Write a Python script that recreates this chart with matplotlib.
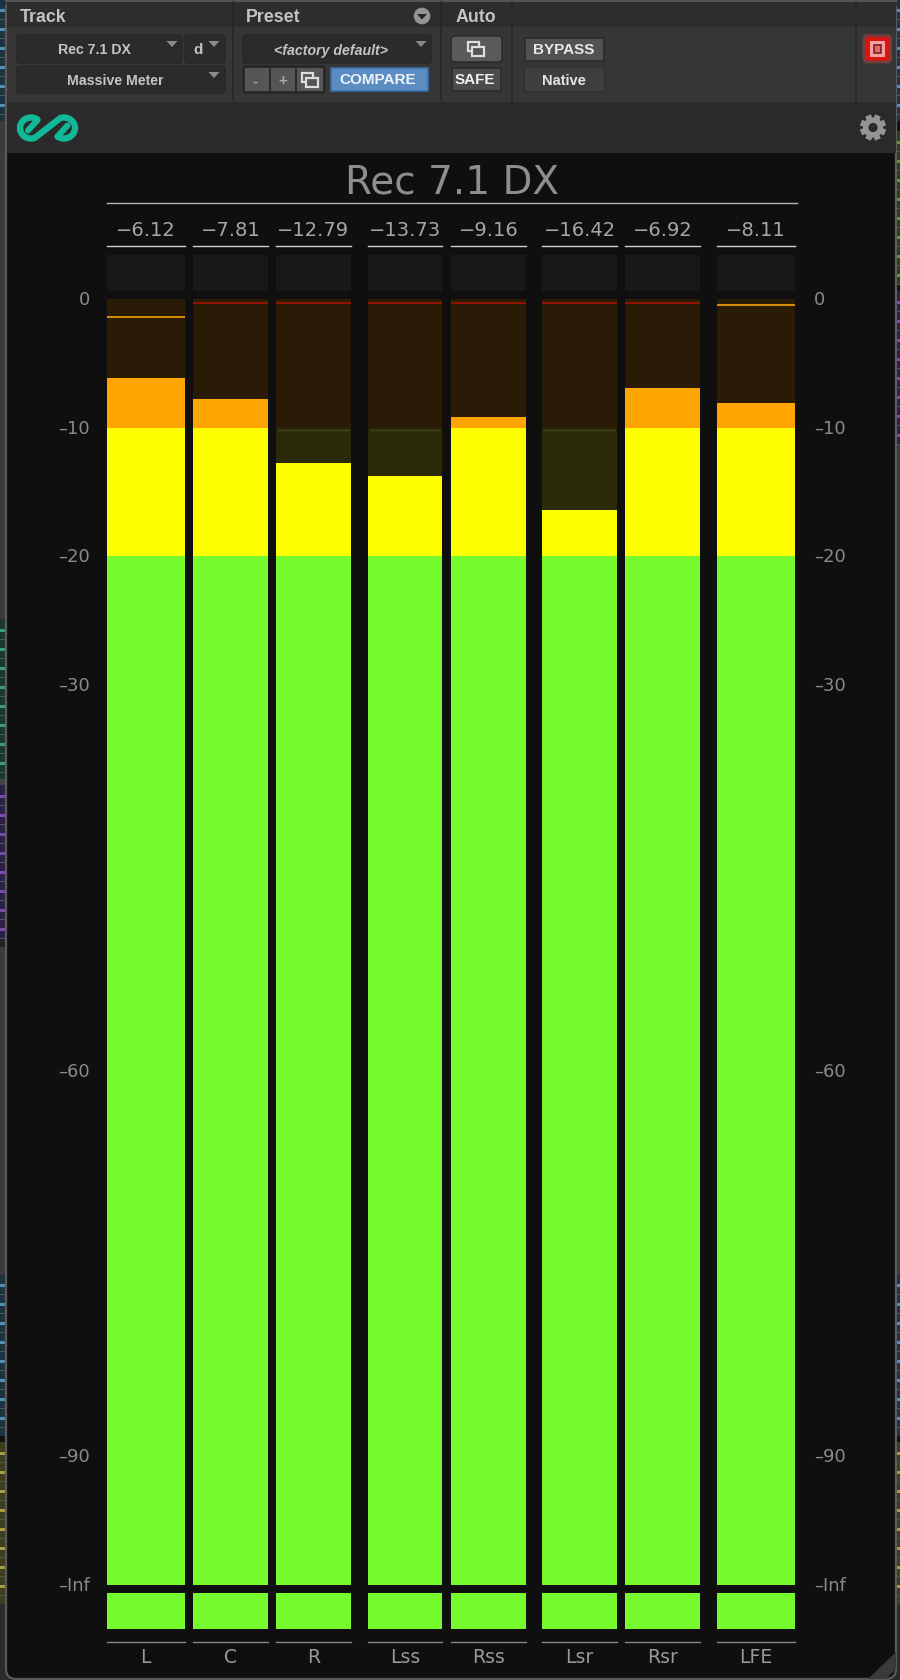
import numpy as np
import matplotlib
matplotlib.use('Agg')
import matplotlib.pyplot as plt
from matplotlib.patches import Rectangle, FancyBboxPatch, Circle, Polygon

W, H = 900, 1681

# meter data
channels = ['L', 'C', 'R', 'Lss', 'Rss', 'Lsr', 'Rsr', 'LFE']
rms_db = [-6.12, -7.81, -12.79, -13.73, -9.16, -16.42, -6.92, -8.11]
peak_db = [-1.37, -0.3, -0.3, -0.3, -0.3, -0.3, -0.3, -0.45]
peak_col = ['#f5a300', '#a80f00', '#a80f00', '#a80f00', '#a80f00', '#a80f00', '#a80f00', '#f5a300']
tick_db = [0, -10, -20, -30, -60, -90, -100]
tick_txt = ['0', '\u201310', '\u201320', '\u201330', '\u201360', '\u201390', '\u2013Inf']

# bar edges in pixels
left_px = [106.7, 193, 276, 367.7, 451, 542.3, 625.3, 717]
right_px = [185, 268, 351, 442.3, 525.7, 617, 700, 795]

BG = '#0f0f0f'
TEAL = '#10b898'
fig = plt.figure(figsize=(9, 16.81), dpi=100, facecolor='#2a2a2a')

# chrome in pixel coordinates, y downwards
bg = fig.add_axes([0, 0, 1, 1])
bg.set_xlim(0, W)
bg.set_ylim(H, 0)
bg.axis('off')


def box(x0, y0, x1, y1, color, zorder=2.5, **kw):
    bg.add_patch(Rectangle((x0, y0), x1 - x0, y1 - y0, facecolor=color, edgecolor=kw.pop('ec', 'none'),
                           zorder=zorder, **kw))


def rbox(x0, y0, x1, y1, color, ec='#272727', r=3, lw=1.0):
    bg.add_patch(FancyBboxPatch((x0 + r, y0 + r), x1 - x0 - 2 * r, y1 - y0 - 2 * r,
                                boxstyle='round,pad=%g,rounding_size=%g' % (r, r),
                                facecolor=color, edgecolor=ec, linewidth=lw, zorder=2.5))


def label(x, y, s, color='#c4c4c4', size=10.2, **kw):
    bg.text(x, y, s, color=color, fontsize=size, ha=kw.pop('ha', 'center'), va='center',
            family='Liberation Sans', fontweight='bold', zorder=4, **kw)


def arrow(x, y):
    bg.add_patch(Polygon([(x - 5.5, y - 3), (x + 5.5, y - 3), (x, y + 3)], facecolor='#8a8a8a', zorder=3))


def win_icon(x, y, col='#dddddd'):
    bg.add_patch(Rectangle((x - 8, y - 7), 11, 9, facecolor='none', edgecolor=col, linewidth=1.6, zorder=3))
    bg.add_patch(Rectangle((x - 4, y - 2), 12, 9, facecolor='#555555', edgecolor=col, linewidth=1.6, zorder=3))


# DAW tracks showing at the window sides
left_bands = [(0, 122, '#1d3342', '#4f93b8'), (122, 620, '#3b3b3b', None), (620, 780, '#1c382c', '#3f9d76'),
              (780, 786, '#444444', None), (786, 940, '#2c2046', '#7a4cb0'), (940, 948, '#222222', None),
              (948, 1275, '#3b3b3b', None), (1275, 1437, '#1d3342', '#4f93b8'), (1437, 1443, '#111111', None),
              (1443, 1605, '#3d3d20', '#a6a040'), (1605, H, '#2b2b2b', None)]
right_bands = [(0, 122, '#1d3342', '#4f93b8'), (122, 132, '#111111', None), (132, 285, '#26401f', '#5d9a40'),
               (285, 292, '#111111', None), (292, 445, '#2c2046', '#7a4cb0'), (445, 1275, '#3b3b3b', None),
               (1275, 1437, '#1d3342', '#4f93b8'), (1437, 1443, '#111111', None), (1443, 1605, '#3d3d20', '#a6a040'),
               (1605, H, '#2b2b2b', None)]
for xa, xb, bands in [(0, 5, left_bands), (897, 900, right_bands)]:
    for y0, y1, col, mark in bands:
        box(xa, y0, xb, y1, col, zorder=0.5)
        if mark:
            for ym in np.arange(y0 + 10, y1 - 4, 19):
                box(xa, ym, xb, ym + 3, mark, zorder=0.6)
                box(xa, ym + 10, xb, ym + 11, '#555555', zorder=0.6)

# plugin window
bg.add_patch(FancyBboxPatch((16, 10), 870, 1660, boxstyle='round,pad=10,rounding_size=10',
                            facecolor=BG, edgecolor='#5a5a5a', linewidth=1.6, zorder=1))
box(6.5, 3, 896, 28, '#2d2d2d', zorder=1.1)
box(6.5, 28, 896, 103, '#363636', zorder=1.1)
box(6.5, 103, 896, 154, '#2a2a2a', zorder=1.1)
box(5, 0, 897, 3, '#555555', zorder=1.1)
for xs in [233, 441, 512, 856]:
    bg.plot([xs, xs], [3, 102], color='#282828', lw=1.2, zorder=1.2)
bg.add_patch(Polygon([(868, 1680), (896, 1653), (896, 1670), (886, 1680)], facecolor='#3a3a3a', zorder=1.2))

# header row
label(20, 17, 'Track', size=12.8, ha='left')
label(246, 17, 'Preset', size=12.8, ha='left')
label(456, 17, 'Auto', size=12.8, ha='left')
bg.add_patch(Circle((422, 17), 8.3, facecolor='#949494', zorder=3))
bg.add_patch(Polygon([(417, 15), (427, 15), (422, 20.5)], facecolor='#222222', zorder=4))

# selectors
sel = [(17, 36, 182, 64), (185, 36, 225, 64), (17, 67, 225, 94), (243, 36, 431, 64)]
for s in sel:
    rbox(*s, '#2b2b2b')
label(94, 50.5, 'Rec 7.1 DX', size=10.2)
label(198, 50.5, 'd', size=11)
label(115, 81, 'Massive Meter', size=10.2)
label(331, 50.5, '<factory default>', size=10.2, style='italic')
for ax_, ay_ in [(172, 45), (214, 45), (214, 76), (421, 45)]:
    arrow(ax_, ay_)

# preset buttons
rbox(243, 67, 325, 94, '#2a2a2a', r=4)
box(245, 69, 269, 92, '#565656', zorder=2.6)
box(271, 69, 295, 92, '#565656', zorder=2.6)
box(297, 69, 323, 92, '#565656', zorder=2.6)
label(255, 82, '-', color='#aaaaaa', size=11)
label(282.5, 81, '+', color='#aaaaaa', size=11)
win_icon(310, 81)
box(331, 69, 428, 92, '#5b8cc2', ec='#3f6fa8', linewidth=1.2)
label(377.5, 80.5, 'COMPARE', color='#eef3f8', size=11)

# auto and bypass buttons
rbox(451, 37, 502, 63, '#5a5a5a', r=4)
win_icon(476, 50)
box(452, 69, 500.5, 92, '#4c4c4c', ec='#2e2e2e', linewidth=1.4)
label(474.5, 80.5, 'SAFE', color='#f0f0f0', size=11)
box(525, 38.5, 603.5, 61.5, '#525252', ec='#2e2e2e', linewidth=1.4)
label(563.5, 50, 'BYPASS', color='#e8e8e8', size=11)
rbox(524, 68, 605, 93, '#3e3e3e', ec='#303030')
label(563.5, 81, 'Native', color='#e4e4e4', size=10.5)

# red system button
rbox(864, 36.5, 890.5, 63, '#d8150f', ec='#6e4040', r=3, lw=2)
box(870, 42, 884.5, 57.5, '#f4a0a0', zorder=2.7)
box(873.5, 46, 881, 53.5, '#e06a6a', ec='#7a2020', linewidth=1.2, zorder=2.8)

# logo, two linked loops
th1 = np.radians(np.linspace(-55, -290, 30))
th2 = np.radians(np.linspace(-110, 125, 30))
xs_logo = np.r_[31 + 11 * np.cos(th1), 64 + 11 * np.cos(th2)]
ys_logo = np.r_[129 + 10.5 * np.sin(th1), 129 + 10.5 * np.sin(th2)]
bg.plot(xs_logo, ys_logo, color=TEAL, lw=4.6, solid_joinstyle='round', solid_capstyle='round', zorder=3)
bg.plot([28, 37.5], [131.5, 121], color=TEAL, lw=4.4, solid_capstyle='round', zorder=3)
bg.plot([57.5, 67.5], [137.5, 126.5], color=TEAL, lw=4.4, solid_capstyle='round', zorder=3)

# settings gear
for ang in np.arange(0, 180, 45):
    a = np.radians(ang + 22.5)
    bg.plot([873 - 13 * np.cos(a), 873 + 13 * np.cos(a)], [128.5 - 13 * np.sin(a), 128.5 + 13 * np.sin(a)],
            color='#949494', lw=4.4, solid_capstyle='butt', zorder=3)
bg.add_patch(Circle((873, 128.5), 10, facecolor='#949494', zorder=3))
bg.add_patch(Circle((873, 128.5), 4.6, facecolor='#2a2a2a', zorder=4))

# title and rules
bg.text(452, 182.5, 'Rec 7.1 DX', color='#8e8e8e', fontsize=28, ha='center', va='center', zorder=3)
bg.plot([107, 796.7], [204, 204], color='#b5b5b5', lw=1.0, zorder=3)
for x0, x1, db in zip(left_px, right_px, rms_db):
    bg.plot([x0, x1], [246.7, 246.7], color='#d0d0d0', lw=1.0, zorder=3)
    bg.plot([x0, x1], [1643, 1643], color='#858585', lw=1.0, zorder=3)
    bg.text((x0 + x1) / 2, 231, '\u2212%.2f' % abs(db), color='#a6a6a6', fontsize=14, ha='center', va='center', zorder=3)
    box(x0, 256, x1, 291.7, '#181818', zorder=2)
    box(x0, 1594, x1, 1630, '#74fa2d', zorder=2)

# meter bars, y axis in dB
ax = fig.add_axes([107 / W, 1 - 1586 / H, (796.5 - 107) / W, (1586 - 300) / H])
ax.patch.set_alpha(0)
ax.set_xlim(107, 796.5)
ax.set_ylim(-100, 0)
for sp in ax.spines.values():
    sp.set_visible(False)

lefts = np.array(left_px)
widths = np.array(right_px) - lefts
rms = np.array(rms_db)
ax.bar(lefts, 10, bottom=-10, width=widths, align='edge', color='#2a1b06')
ax.bar(lefts, 10, bottom=-20, width=widths, align='edge', color='#2a2a08')
ax.bar(lefts, 80, bottom=-100, width=widths, align='edge', color='#74fa2d')
yel_top = np.minimum(rms, -10)
ax.bar(lefts, yel_top + 20, bottom=-20, width=widths, align='edge', color='#ffff00')
org_top = np.maximum(rms, -10)
ax.bar(lefts, org_top + 10, bottom=-10, width=widths, align='edge', color='#ffa500')
ax.hlines(peak_db, lefts, lefts + widths, colors=peak_col, linewidth=1.2)
# faint ghost line at -10 on the channels that stay below it
for i, v in enumerate(rms_db):
    if v < -10:
        ax.hlines(-10.2, lefts[i] + 2, lefts[i] + widths[i] - 2, colors='#45451f', linewidth=1.0)

ax.set_yticks(tick_db)
ax.set_yticklabels(tick_txt)
ax.tick_params(axis='y', length=0, pad=12.5, labelleft=True, labelright=True, labelcolor='#8a8a8a', labelsize=13)
for t in ax.get_yticklabels() + [tk.label2 for tk in ax.yaxis.get_major_ticks()]:
    t.set_verticalalignment('center')
ax.set_xticks(lefts + widths / 2)
ax.set_xticklabels(channels)
ax.tick_params(axis='x', length=0, pad=45, labelcolor='#9a9a9a', labelsize=13.5)

fig.savefig('out.png', dpi=100, facecolor=fig.get_facecolor())
